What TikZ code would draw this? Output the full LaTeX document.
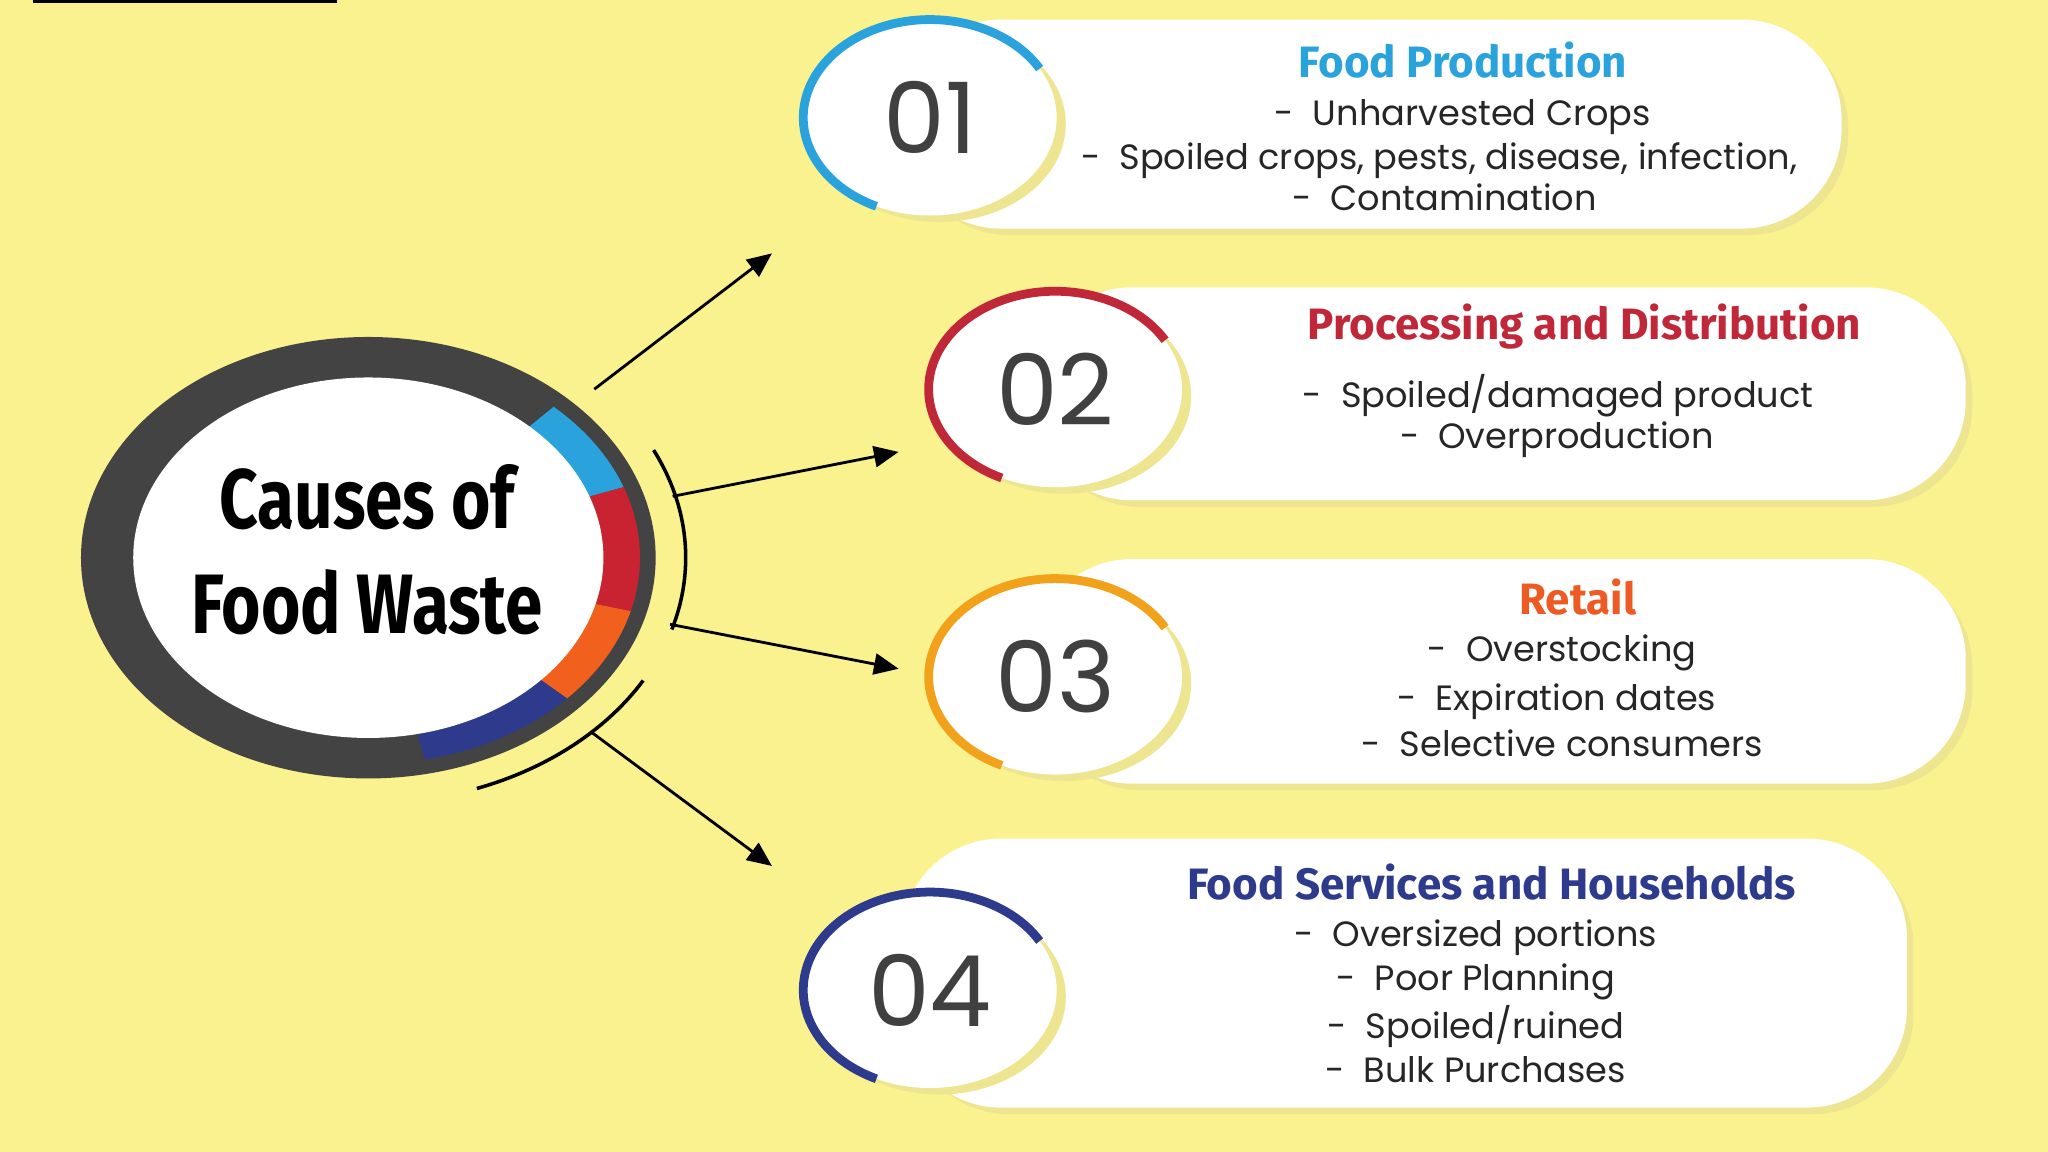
\documentclass[tikz,border=0pt]{standalone}
\usepackage{fontspec}
\setmainfont{Poppins}
\newfontfamily\titlefont{Fira Sans}
\usetikzlibrary{arrows.meta}
\definecolor{bg}{HTML}{FAF28E}
\definecolor{shad}{HTML}{EEE590}
\definecolor{cOne}{HTML}{2AA3DC}
\definecolor{cTwo}{HTML}{C0283A}
\definecolor{cThree}{HTML}{EE5A24}
\definecolor{cThreeArc}{HTML}{F2A11B}
\definecolor{cFour}{HTML}{2E3A8C}
\definecolor{ring}{HTML}{434343}
\tikzset{
  card/.style={fill=white, rounded corners=1cm},
  cshadow/.style={fill=shad, rounded corners=1cm},
  ttl/.style={font=\titlefont\bfseries\fontsize{12.5}{14}\selectfont, anchor=center},
  body/.style={font=\fontsize{10}{12}\selectfont, anchor=center, text=black!85},
  num/.style={font=\fontsize{28}{30}\selectfont, text=black!75},
  arr/.style={-{Triangle[length=7pt,width=6pt]}, line width=0.8pt},
}
\begin{document}
\begin{tikzpicture}[x=0.013061cm,y=-0.013061cm]
\fill[bg] (0,0) rectangle (1568,882);
\useasboundingbox (0,0) rectangle (1568,882);
\draw[line width=1pt] (25,1) -- (258,1);
% cards
\foreach \xa/\ya/\xb/\yb in {690/15/1410/175, 790/220/1505/383, 790/428/1505/600, 690/642/1460/848}{
  \fill[cshadow] (\xa+6,\ya+6) rectangle (\xb+5,\yb+5);
  \fill[card] (\xa,\ya) rectangle (\xb,\yb);
}
% number circles
\foreach \cx/\cy/\col/\n in {712/90/cOne/01, 808/298/cTwo/02, 808/518/cThreeArc/03, 712/758/cFour/04}{
  \fill[shad] (\cx+7,\cy+5) ellipse[x radius=97, y radius=75];
  \fill[white] (\cx,\cy) ellipse[x radius=97, y radius=75];
  \draw[\col, line width=2.5pt] (\cx,\cy) ++(-30:97 and 75) arc[start angle=-30, end angle=-245, x radius=97, y radius=75];
  \node[num] (n\n) at (\cx,\cy) {\n};
}
% texts
\node[ttl, text=cOne] (t1) at (1120,46) {Food Production};
\node[body] (b11) at (1120,90) {-\ \ Unharvested Crops};
\node[body] (b12) at (1102,123) {-\ \ Spoiled crops, pests, disease, infection,};
\node[body] (b13) at (1106,151) {-\ \ Contamination};
\node[ttl, text=cTwo] (t2) at (1213,250) {Processing and Distribution};
\node[body] (b21) at (1193,303) {-\ \ Spoiled/damaged product};
\node[body] (b22) at (1192,337) {-\ \ Overproduction};
\node[ttl, text=cThree] (t3) at (1208,457) {Retail};
\node[body] (b31) at (1196,500) {-\ \ Overstocking};
\node[body] (b32) at (1192,537) {-\ \ Expiration dates};
\node[body] (b33) at (1196,569) {-\ \ Selective consumers};
\node[ttl, text=cFour] (t4) at (1142,675) {Food Services and Households};
\node[body] (b41) at (1130,718) {-\ \ Oversized portions};
\node[body] (b42) at (1130,752) {-\ \ Poor Planning};
\node[body] (b43) at (1130,786) {-\ \ Spoiled/ruined};
\node[body] (b44) at (1130,819) {-\ \ Bulk Purchases};
% big ring
\fill[ring] (282,427) ellipse[x radius=220, y radius=169];
\foreach \a/\b/\col in {-47/-20/cOne, -20/15/cTwo!85!red, 15/43/cThree!80!orange, 43/78/cFour}{
  \fill[\col] (282,427) ++(\a:208 and 158) arc[start angle=\a, end angle=\b, x radius=208, y radius=158]
     -- (282,427) -- cycle;
}
\fill[white] (282,427) ellipse[x radius=180, y radius=138];
\node[font=\titlefont\bfseries\fontsize{24}{32}\selectfont, align=center] (main) at (281,421) {\scalebox{0.8}[1]{Causes of}\\[-2pt]\scalebox{0.8}[1]{Food Waste}};
% arcs
\draw[line width=1pt] (282,427) ++(-26:243 and 188) arc[start angle=-26, end angle=17, x radius=243, y radius=188];
\draw[line width=1pt] (282,427) ++(30:243 and 188) arc[start angle=30, end angle=70, x radius=243, y radius=188];
% arrows
\coordinate (s1) at (455,298);
\coordinate (s2) at (515,380);
\coordinate (s3) at (513,478);
\coordinate (s4) at (452,560);
\coordinate (e1) at (591,194);
\coordinate (e2) at (688,346);
\coordinate (e3) at (688,512);
\coordinate (e4) at (591,663);
\draw[arr] (s1) -- (e1);
\draw[arr] (s2) -- (e2);
\draw[arr] (s3) -- (e3);
\draw[arr] (s4) -- (e4);
\end{tikzpicture}
\end{document}
